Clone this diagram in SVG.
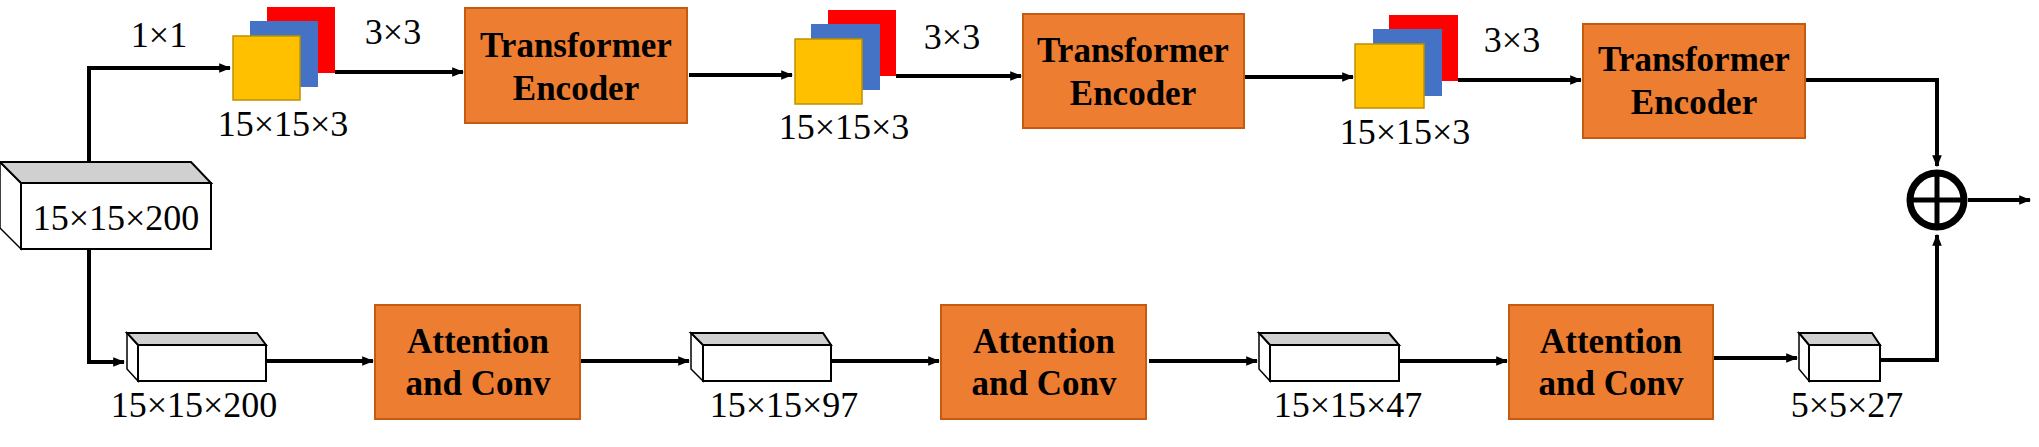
<svg xmlns="http://www.w3.org/2000/svg" width="2039" height="447" viewBox="0 0 2039 447">
<defs>
<style>
.t{font-family:'Liberation Serif','Times New Roman','DejaVu Serif',serif;font-size:36px;fill:#000;text-anchor:middle}
.b{font-family:'Liberation Serif','Times New Roman','DejaVu Serif',serif;font-size:35px;font-weight:bold;fill:#000;text-anchor:middle}
.box{fill:#ED7D31;stroke:#C55A11;stroke-width:2}
.ln{fill:none;stroke:#000;stroke-width:4}
.front{fill:#fff;stroke:#000;stroke-width:2}
.top{fill:#D0D0D0;stroke:#000;stroke-width:2}
.side{fill:#fff;stroke:#000;stroke-width:1.5}
</style>
<marker id="ar" viewBox="0 0 10 10" refX="9" refY="5" markerWidth="3" markerHeight="3" orient="auto"><path d="M0,1 L10,5 L0,9 Z" fill="#000"/></marker>
</defs>
<g id="connectors">
<path class="ln" d="M89,162 V68 H230" marker-end="url(#ar)"/>
<path class="ln" d="M335,72 H463" marker-end="url(#ar)"/>
<path class="ln" d="M689,75 H792" marker-end="url(#ar)"/>
<path class="ln" d="M896,76 H1021" marker-end="url(#ar)"/>
<path class="ln" d="M1244,77 H1353" marker-end="url(#ar)"/>
<path class="ln" d="M1458,80 H1581" marker-end="url(#ar)"/>
<path class="ln" d="M1805,80 H1937 V166" stroke-width="3" marker-end="url(#ar)"/>
<path class="ln" d="M1968,200 H2030" stroke-width="3" marker-end="url(#ar)"/>
<path class="ln" d="M89,249 V362 H124" marker-end="url(#ar)"/>
<path class="ln" d="M266,361 H373" marker-end="url(#ar)"/>
<path class="ln" d="M580,361 H689" marker-end="url(#ar)"/>
<path class="ln" d="M831,361 H939" marker-end="url(#ar)"/>
<path class="ln" d="M1149,361 H1257" marker-end="url(#ar)"/>
<path class="ln" d="M1399,361 H1507" marker-end="url(#ar)"/>
<path class="ln" d="M1713,358 H1797" marker-end="url(#ar)"/>
<path class="ln" d="M1880,360 H1937 V235" stroke-width="3" marker-end="url(#ar)"/>
</g>
<g id="input">
<polygon class="side" points="0,162 21,183 21,249 0,228"/>
<polygon class="top" points="0,162 191,162 211,183 21,183"/>
<rect class="front" x="21" y="183" width="190" height="66"/>
<text class="t" x="116" y="230" font-family="Liberation Serif">15×15×200</text>
</g>
<text class="t" x="159" y="47" font-family="Liberation Serif">1×1</text>
<g id="stack1">
<rect x="267" y="7" width="68" height="66" fill="#FF0000"/>
<rect x="250" y="21" width="68" height="66" fill="#4472C4"/>
<rect x="233" y="36" width="67" height="64" fill="#FFC000" stroke="#BF9000" stroke-width="1.5"/>
<text class="t" x="283" y="136">15×15×3</text>
</g>
<text class="t" x="393" y="44">3×3</text>
<g id="te1"><rect class="box" x="465" y="8" width="222" height="115"/>
<text class="b" x="576" y="57">Transformer</text><text class="b" x="576" y="100">Encoder</text></g>
<g id="stack2">
<rect x="828" y="10" width="68" height="66" fill="#FF0000"/>
<rect x="811" y="24" width="69" height="66" fill="#4472C4"/>
<rect x="795" y="39" width="67" height="65" fill="#FFC000" stroke="#BF9000" stroke-width="1.5"/>
<text class="t" x="844" y="139">15×15×3</text>
</g>
<text class="t" x="952" y="49">3×3</text>
<g id="te2"><rect class="box" x="1023" y="14" width="221" height="114"/>
<text class="b" x="1133" y="62">Transformer</text><text class="b" x="1133" y="105">Encoder</text></g>
<g id="stack3">
<rect x="1389" y="15" width="69" height="66" fill="#FF0000"/>
<rect x="1373" y="29" width="69" height="67" fill="#4472C4"/>
<rect x="1355" y="44" width="69" height="64" fill="#FFC000" stroke="#BF9000" stroke-width="1.5"/>
<text class="t" x="1405" y="144">15×15×3</text>
</g>
<text class="t" x="1512" y="52">3×3</text>
<g id="te3"><rect class="box" x="1583" y="24" width="222" height="114"/>
<text class="b" x="1694" y="71">Transformer</text><text class="b" x="1694" y="114">Encoder</text></g>
<g id="sum">
<circle cx="1937" cy="200" r="27" fill="#fff" stroke="#000" stroke-width="7"/>
<path d="M1910,200 H1964 M1937,173 V227" stroke="#000" stroke-width="5"/>
</g>
<g id="cube1">
<polygon class="side" points="127,333 138,345 138,381 127,369"/>
<polygon class="top" points="127,333 257,333 266,345 138,345"/>
<rect class="front" x="138" y="345" width="128" height="36"/>
<text class="t" x="194" y="417">15×15×200</text>
</g>
<g id="ac1"><rect class="box" x="375" y="305" width="205" height="114"/>
<text class="b" x="478" y="353">Attention</text><text class="b" x="478" y="395">and Conv</text></g>
<g id="cube2">
<polygon class="side" points="691,333 703,345 703,381 691,369"/>
<polygon class="top" points="691,333 823,333 831,345 703,345"/>
<rect class="front" x="703" y="345" width="128" height="36"/>
<text class="t" x="784" y="417">15×15×97</text>
</g>
<g id="ac2"><rect class="box" x="941" y="305" width="205" height="114"/>
<text class="b" x="1044" y="353">Attention</text><text class="b" x="1044" y="395">and Conv</text></g>
<g id="cube3">
<polygon class="side" points="1259,333 1270,345 1270,381 1259,369"/>
<polygon class="top" points="1259,333 1389,333 1399,345 1270,345"/>
<rect class="front" x="1270" y="345" width="129" height="36"/>
<text class="t" x="1348" y="417">15×15×47</text>
</g>
<g id="ac3"><rect class="box" x="1509" y="305" width="204" height="114"/>
<text class="b" x="1611" y="353">Attention</text><text class="b" x="1611" y="395">and Conv</text></g>
<g id="cube4">
<polygon class="side" points="1799,333 1809,345 1809,381 1799,369"/>
<polygon class="top" points="1799,333 1872,333 1880,345 1809,345"/>
<rect class="front" x="1809" y="345" width="71" height="36"/>
<text class="t" x="1847" y="417">5×5×27</text>
</g>
</svg>
